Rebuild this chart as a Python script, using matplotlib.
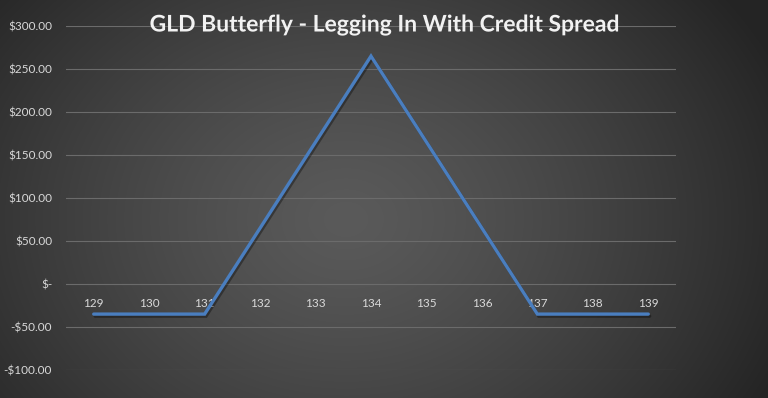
import numpy as np
import matplotlib
matplotlib.use("Agg")
import matplotlib.pyplot as plt
import matplotlib.patheffects as pe

strikes = ["129", "130", "131", "132", "133", "134", "135", "136", "137", "138", "139"]
pnl = [-35, -35, -35, 65, 165, 265, 165, 65, -35, -35, -35]
yticks = [-100, -50, 0, 50, 100, 150, 200, 250, 300]
ylabels = ["-$100.00", "-$50.00", "$-", "$50.00", "$100.00", "$150.00", "$200.00", "$250.00", "$300.00"]
title = "GLD Butterfly - Legging In With Credit Spread"

plt.rcParams['font.family'] = ['Lato', 'DejaVu Sans']

W, H = 768, 398
fig = plt.figure(figsize=(W / 100, H / 100), dpi=100)

# radial gradient background
bg = fig.add_axes([0, 0, 1, 1])
yy, xx = np.mgrid[0:H, 0:W]
cx, cy = W * 0.45, H * 0.55
r = np.sqrt(((xx - cx) / (W * 0.62)) ** 2 + ((yy - cy) / (H * 0.95)) ** 2)
r = np.clip(r, 0, 1)
inner, outer = 0x5a / 255, 0x24 / 255
v = inner + (outer - inner) * r ** 1.3
img = np.dstack([v, v, v])
bg.imshow(img, aspect='auto', extent=[0, 1, 0, 1], origin='upper')
bg.set_axis_off()

ax = fig.add_axes([66 / W, (H - 370) / H, (676 - 66) / W, (370 - 26) / H])
ax.patch.set_alpha(0)
x = np.arange(len(strikes))
ax.plot(x, pnl, color='#4a7ebf', lw=2.4, solid_capstyle='round', solid_joinstyle='miter', zorder=3,
        path_effects=[pe.SimpleLineShadow(offset=(1, -1.5), shadow_color='black', alpha=0.35), pe.Normal()])
ax.set_xlim(-0.5, len(strikes) - 0.5)
ax.set_ylim(-100, 300)
ax.set_yticks(yticks)
ax.set_yticklabels(ylabels)
ax.yaxis.grid(True, color='#6b6b6b', lw=0.8)
ax.set_axisbelow(True)
for s in ax.spines.values():
    s.set_visible(False)
ax.spines['bottom'].set_position(('data', 0))
ax.set_xticks(x)
ax.set_xticklabels(strikes)
ax.tick_params(axis='x', length=0, pad=10, colors='#d9d9d9', labelsize=8.5)
ax.tick_params(axis='y', length=0, pad=10, colors='#d9d9d9', labelsize=8.5)

fig.text(0.5, (H - 25) / H, title, ha='center', va='center', color='#f2f2f2', fontsize=16.5,
         fontweight='bold',
         path_effects=[pe.SimpleLineShadow(offset=(1.2, -1.2), alpha=0.5), pe.Normal()])

fig.savefig("out.png", dpi=100)
